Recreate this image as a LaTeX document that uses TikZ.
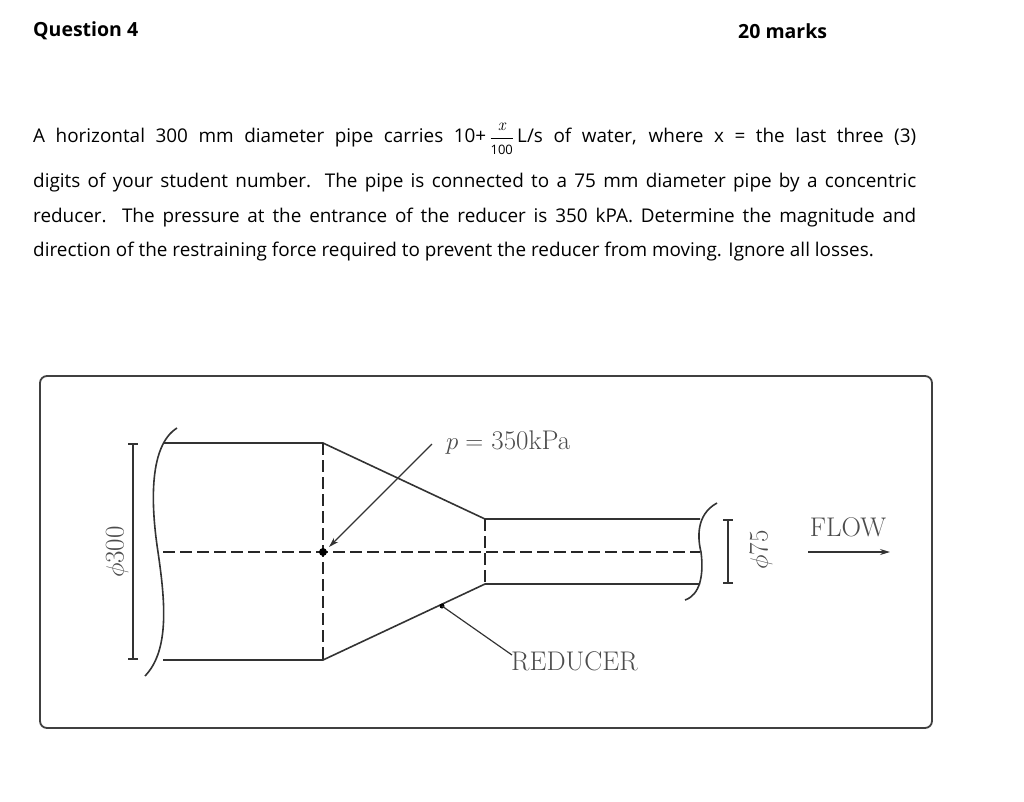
\documentclass[tikz,border=0pt]{standalone}
\usepackage{fontspec}
\newfontfamily\osans{Open Sans}
\usetikzlibrary{arrows.meta}
\begin{document}
\begin{tikzpicture}[x=1pt,y=-1pt,
  ln/.style={line width=1.6pt,black!80},
  dsh/.style={line width=1.6pt,black!85,dash pattern=on 12pt off 5pt},
  lbl/.style={font=\fontsize{27}{28}\selectfont,text=black!70,inner sep=0pt},
  para/.style={font=\osans\fontsize{18.9}{22}\selectfont,anchor=west,inner sep=0pt}]
\useasboundingbox (0,0) rectangle (1024,801);
\node[font=\osans\bfseries\fontsize{19.5}{22}\selectfont,anchor=west,inner sep=0pt] (q) at (33,31) {Question 4};
\node[font=\osans\bfseries\fontsize{19.5}{22}\selectfont,anchor=west,inner sep=0pt] (m) at (738,31) {20 marks};
\node[para] (l1) at (33,139) {\makebox[883pt][s]{A horizontal 300 mm diameter pipe carries 10+\,$\displaystyle\frac{\mbox{\rmfamily\itshape\fontsize{17}{17}\selectfont x}}{\mbox{\osans\fontsize{13}{13}\selectfont 100}}$\,L/s of water, where x = the last three (3)}};
\node[para] (l2) at (33,183) {\makebox[883pt][s]{digits of your student number.  The pipe is connected to a 75 mm diameter pipe by a concentric}};
\node[para] (l3) at (33,218) {\makebox[883pt][s]{reducer. The pressure at the entrance of the reducer is 350 kPA.  Determine the magnitude and}};
\node[para] (l4) at (33,252) {direction of the restraining force required to prevent the reducer from moving.  Ignore all losses.};
% frame
\draw[line width=1.8pt,black!75,rounded corners=7pt] (40,376) rectangle (932,728);
% coordinates
\coordinate (A) at (163,443); \coordinate (B) at (323,443);
\coordinate (C) at (163,660); \coordinate (D) at (323,660);
\coordinate (E) at (485,519); \coordinate (F) at (485,584);
\coordinate (G) at (700,519); \coordinate (H) at (700,584);
\coordinate (O) at (323,552);
\draw[ln] (A) -- (B) -- (E) -- (G);
\draw[ln] (C) -- (D) -- (F) -- (H);
\draw[ln] (177,428) .. controls (150,445) and (150,500) .. (158,552) .. controls (165,600) and (170,650) .. (145,676);
\draw[ln] (717,503) .. controls (695,515) and (698,540) .. (701,552) .. controls (704,575) and (700,595) .. (685,600);
\draw[dsh] (163,552) -- (700,552);
\draw[dsh] (B) -- (D);
\draw[dsh] (E) -- (F);
\fill (O) circle (4pt);
% dims
\draw[ln,{Bar[width=10pt]}-{Bar[width=10pt]}] (133,443) -- (133,660);
\draw[ln,{Bar[width=10pt]}-{Bar[width=10pt]}] (728,519) -- (728,584);
\node[lbl,rotate=90] (d1) at (117,552) {$\phi$300};
\node[lbl,rotate=90] (d2) at (761,550) {$\phi$75};
% pressure
\coordinate (P1) at (432,444);
\draw[line width=1.2pt,black!80,-{Stealth[length=10pt,width=6pt]}] (P1) -- (329,547);
\node[lbl,anchor=west] (p) at (446,443) {$p=$ 350kPa};
% reducer
\coordinate (R0) at (442,606);
\fill (R0) circle (2.5pt);
\draw[line width=1.2pt,black!80] (R0) -- (512,655);
\node[lbl,anchor=west] (red) at (511,661) {REDUCER};
% flow
\node[lbl] (fl) at (848,527) {FLOW};
\draw[line width=1.2pt,black!80,-{Stealth[length=10pt,width=6pt]}] (808,552) -- (890,552);
\end{tikzpicture}
\end{document}
